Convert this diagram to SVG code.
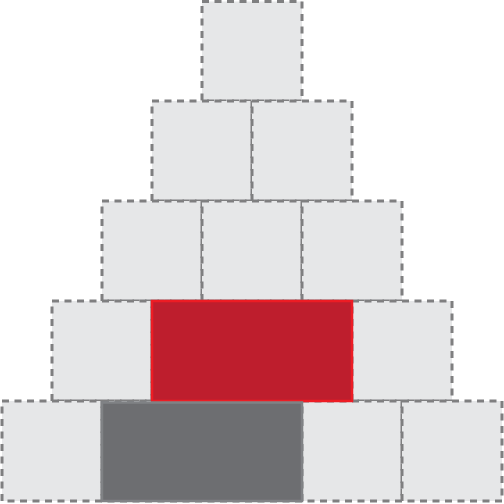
<svg xmlns="http://www.w3.org/2000/svg" width="504" height="504" viewBox="0 0 504 504">
<style>
.b{fill:#e6e7e8;stroke:#7f7f80;stroke-width:3;stroke-dasharray:7 5.5;}
.red{fill:#be1e2d;stroke:#ed1c24;stroke-width:2.5;}
.dk{fill:#6d6e71;stroke:#808285;stroke-width:2.5;}
</style>
<rect width="504" height="504" fill="#ffffff"/>
<g id="row1"><rect class="b" x="202" y="1.5" width="100" height="99.5"/></g>
<g id="row2">
<rect class="b" x="152" y="101" width="100" height="100"/>
<rect class="b" x="252" y="101" width="100" height="100"/>
</g>
<g id="row3">
<rect class="b" x="102" y="201" width="100" height="100"/>
<rect class="b" x="202" y="201" width="100" height="100"/>
<rect class="b" x="302" y="201" width="100" height="100"/>
</g>
<g id="row4">
<rect class="b" x="52" y="301" width="100" height="100"/>
<rect class="b" x="152" y="301" width="100" height="100"/>
<rect class="b" x="252" y="301" width="100" height="100"/>
<rect class="b" x="352" y="301" width="100" height="100"/>
</g>
<g id="row5">
<rect class="b" x="2" y="401" width="100" height="100"/>
<rect class="b" x="102" y="401" width="100" height="100"/>
<rect class="b" x="202" y="401" width="100" height="100"/>
<rect class="b" x="302" y="401" width="100" height="100"/>
<rect class="b" x="402" y="401" width="100" height="100"/>
</g>
<g id="red-block"><rect class="red" x="152" y="301" width="200" height="100"/></g>
<g id="dark-block"><rect class="dk" x="102" y="402.5" width="200" height="98.5"/></g>
</svg>
